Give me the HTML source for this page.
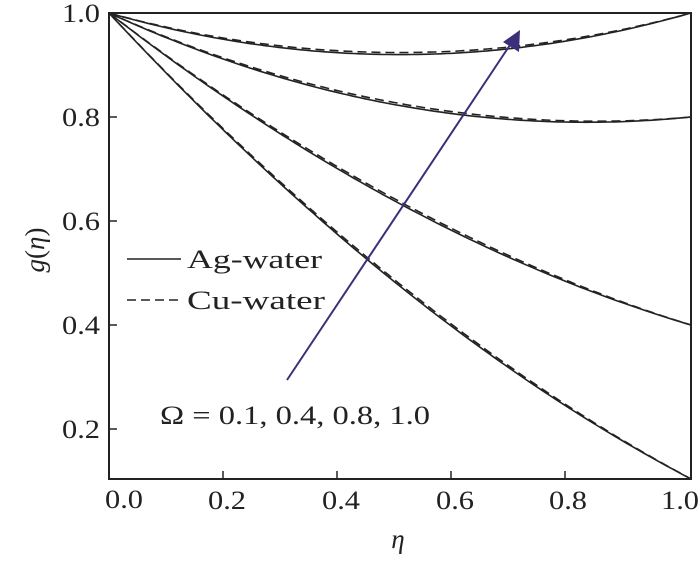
<!DOCTYPE html>
<html><head><meta charset="utf-8"><style>
body{margin:0;background:#fff}
svg text{font-family:"Liberation Serif",serif;fill:#222}
</style></head><body>
<svg width="700" height="562" xmlns="http://www.w3.org/2000/svg">
<rect x="109" y="13" width="582" height="466" fill="none" stroke="#222" stroke-width="2"/>
<g stroke="#222" stroke-width="1.5">
<line x1="223" y1="479" x2="223" y2="471"/><line x1="337" y1="479" x2="337" y2="471"/><line x1="451" y1="479" x2="451" y2="471"/><line x1="565" y1="479" x2="565" y2="471"/>
<line x1="109" y1="429" x2="117" y2="429"/><line x1="109" y1="325" x2="117" y2="325"/><line x1="109" y1="221" x2="117" y2="221"/><line x1="109" y1="117" x2="117" y2="117"/>
</g>
<g font-size="26" text-anchor="middle">
<text x="124" y="508" textLength="38" lengthAdjust="spacingAndGlyphs">0.0</text><text x="227" y="509" textLength="38" lengthAdjust="spacingAndGlyphs">0.2</text><text x="341" y="509" textLength="38" lengthAdjust="spacingAndGlyphs">0.4</text><text x="455" y="509" textLength="38" lengthAdjust="spacingAndGlyphs">0.6</text><text x="568" y="509" textLength="38" lengthAdjust="spacingAndGlyphs">0.8</text><text x="680" y="509" textLength="38" lengthAdjust="spacingAndGlyphs">1.0</text>
</g>
<g font-size="26">
<text x="62" y="22" textLength="38" lengthAdjust="spacingAndGlyphs">1.0</text><text x="62" y="126" textLength="38" lengthAdjust="spacingAndGlyphs">0.8</text><text x="62" y="230" textLength="38" lengthAdjust="spacingAndGlyphs">0.6</text><text x="62" y="334" textLength="38" lengthAdjust="spacingAndGlyphs">0.4</text><text x="62" y="438" textLength="38" lengthAdjust="spacingAndGlyphs">0.2</text>
</g>
<text x="398" y="548" font-size="27" font-style="italic" text-anchor="middle">η</text>
<text transform="translate(44,250) rotate(-90)" font-size="27" text-anchor="middle"><tspan font-style="italic">g</tspan>(<tspan font-style="italic">η</tspan>)</text>
<g id="curves" fill="none" stroke="#222" stroke-width="1.6"></g>
<line x1="127" y1="259" x2="181" y2="259" stroke="#222" stroke-width="1.6"/>
<line x1="127" y1="300" x2="181" y2="300" stroke="#222" stroke-width="1.6" stroke-dasharray="9,5"/>
<text x="187" y="268" font-size="26" textLength="135" lengthAdjust="spacingAndGlyphs">Ag-water</text>
<text x="187" y="309" font-size="26" textLength="138" lengthAdjust="spacingAndGlyphs">Cu-water</text>
<text x="160" y="424" font-size="26" textLength="270" lengthAdjust="spacingAndGlyphs">Ω = 0.1, 0.4, 0.8, 1.0</text>
<line x1="287" y1="380" x2="512" y2="42" stroke="#3a2f7a" stroke-width="2"/>
<path d="M520,30 L519,52 L503,42 z" fill="#3a2f7a"/>
<script>
var g=document.getElementById('curves');
var P=[[1.206,0.31],[0.868,0.268],[0.5125,0.3125],[0.32,0.32]];
function X(e){return 109+582*e}function Y(v){return 13+(1-v)*520}
P.forEach(function(p){
 ['s','d'].forEach(function(t){
  var d='';for(var i=0;i<=100;i++){var e=i/100,v=1-p[0]*e+p[1]*e*e;if(t=='d')v+=0.004*Math.sin(Math.PI*e);d+=(i?'L':'M')+X(e).toFixed(1)+','+Y(v).toFixed(1);}
  var pa=document.createElementNS('http://www.w3.org/2000/svg','path');pa.setAttribute('d',d);
  if(t=='d')pa.setAttribute('stroke-dasharray','9,5');g.appendChild(pa);
 });
});
</script>
</svg>
</body></html>
